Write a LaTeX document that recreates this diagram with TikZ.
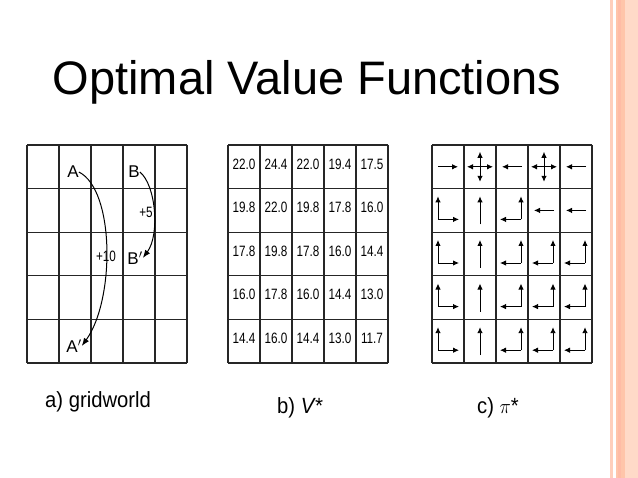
\documentclass[tikz,border=0pt]{standalone}
\usepackage{fontspec}
\setmainfont{Liberation Sans}
\usetikzlibrary{arrows.meta}
\newcommand{\pcR}[2]{\draw[pol] (#1-10,#2) -- (#1+10,#2);}
\newcommand{\pcL}[2]{\draw[pol] (#1+10,#2) -- (#1-10,#2);}
\newcommand{\pcU}[2]{\draw[pol] (#1,#2+14) -- (#1,#2-14);}
\newcommand{\pcAll}[2]{\draw[pol] (#1,#2)--(#1+13,#2);\draw[pol] (#1,#2)--(#1-13,#2);\draw[pol] (#1,#2)--(#1,#2-15);\draw[pol] (#1,#2)--(#1,#2+15);}
\newcommand{\pcUR}[2]{\draw[pol] (#1-10,#2+9) -- (#1-10,#2-14);\draw[pol] (#1-10,#2+9) -- (#1+11,#2+9);}
\newcommand{\pcUL}[2]{\draw[pol] (#1+9,#2+9) -- (#1+9,#2-14);\draw[pol] (#1+9,#2+9) -- (#1-12,#2+9);}
\begin{document}
\begin{tikzpicture}[x=1pt,y=-1pt,
  gridl/.style={draw=black!85,line width=1.3pt},
  pol/.style={line width=0.9pt,-{Latex[length=6pt,width=5.5pt]}},
  lbl/.style={font=\fontsize{17}{17}\selectfont,inner sep=0pt},
  num/.style={font=\fontsize{15}{15}\selectfont,inner sep=0pt,xscale=0.78},
  captxt/.style={font=\fontsize{22}{22}\selectfont,inner sep=0pt,anchor=base west,xscale=0.92}]
\useasboundingbox (0,0) rectangle (638,478);
\fill[white] (0,0) rectangle (638,478);
% right border stripes
\fill[orange!25!pink!60] (610,0) rectangle (612.5,478);
\fill[orange!30!pink!70] (615.5,0) rectangle (638,478);
\fill[orange!50!red!35] (618,0) rectangle (621,478);
\fill[orange!30!pink!45] (625,0) rectangle (638,478);
% title
\node[font=\fontsize{47}{47}\selectfont,anchor=base,inner sep=0pt] (title) at (307,95) {Optimal Value Functions};
% grids
\foreach \gx in {27,228,432}{
  \foreach \i in {0,...,5}{
    \draw[gridl] (\gx+32*\i,145) -- (\gx+32*\i,363);
    \draw[gridl] (\gx,145+43.6*\i) -- (\gx+160,145+43.6*\i);
  }
}
% gridworld labels
\node[lbl] (A) at (73,172) {A};
\node[lbl] (B) at (134,172) {B};
\node[lbl] (Bp) at (135,258) {B$'$};
\node[lbl] (Ap) at (74,346) {A$'$};
\node[num] (p5) at (146,212) {+5};
\node[num] (p10) at (106,256) {+10};
\draw[line width=1pt,-{Latex[length=8pt,width=6pt]}] (A.east) .. controls (115,190) and (115,300) .. (Ap.east);
\draw[line width=1pt,-{Latex[length=8pt,width=6pt]}] (B.east) .. controls (156,185) and (160,235) .. (Bp.east);
% V* values
\foreach \row [count=\r from 0] in {
 {22.0,24.4,22.0,19.4,17.5},
 {19.8,22.0,19.8,17.8,16.0},
 {17.8,19.8,17.8,16.0,14.4},
 {16.0,17.8,16.0,14.4,13.0},
 {14.4,16.0,14.4,13.0,11.7}}{
  \foreach \v [count=\c from 0] in \row{
    \node[num] (v\r\c) at (228+16+32*\c,145+19+43.6*\r) {\v};
  }
}
% policy arrows
\foreach \r/\codes in {0/{R,All,L,All,L},1/{UR,U,UL,L,L},2/{UR,U,UL,UL,UL},3/{UR,U,UL,UL,UL},4/{UR,U,UL,UL,UL}}{
  \foreach \k [count=\c from 0] in \codes{
    \pgfmathsetmacro\cx{432+16+32*\c}\pgfmathsetmacro\cy{145+21.8+43.6*\r}
    \csname pc\k\endcsname{\cx}{\cy}
  }
}
% captions
\node[captxt] (ca) at (45,408) {a) gridworld};
\node[captxt] (cb) at (277,414) {b) \textit{V*}};
\node[captxt] (cc) at (477,414) {c) $\pi$*};
\end{tikzpicture}
\end{document}
